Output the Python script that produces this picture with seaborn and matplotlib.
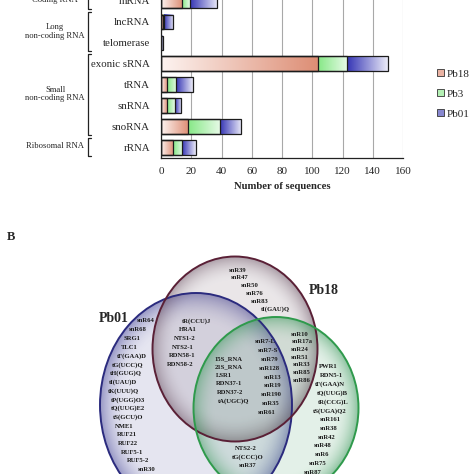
import numpy as np
import seaborn as sns
import matplotlib.pyplot as plt
from matplotlib.patches import Ellipse, Patch
from matplotlib.colors import LinearSegmentedColormap
from matplotlib.transforms import blended_transform_factory

# ---- panel A data: number of sequences per RNA class ----
categories = ['mRNA', 'lncRNA', 'telomerase', 'exonic sRNA', 'tRNA', 'snRNA', 'snoRNA', 'rRNA']
pb18 = [14, 1, 0, 104, 4, 4, 18, 8]
pb3 = [5, 1, 0, 19, 6, 5, 21, 6]
pb01 = [18, 6, 1, 27, 11, 4, 14, 9]
series_names = ['Pb18', 'Pb3', 'Pb01']
x_ticks = [0, 20, 40, 60, 80, 100, 120, 140, 160]

# RNA groups (label, first row, last row)
groups = [('Coding RNA', 0, 0), ('Long\nnon-coding RNA', 1, 2),
          ('Small\nnon-coding RNA', 3, 6), ('Ribosomal RNA', 7, 7)]

# ---- panel B data: Venn region contents ----
pb18_only = ['snR39', 'snR47', 'snR50', 'snR76', 'snR83', 'tI(GAU)Q']
pb01_only = ['snR64', 'snR68', 'SRG1', 'TLC1', 'tF(GAA)D', 'tG(UCC)Q', 'tH(GUG)Q',
             'tI(UAU)D', 'tK(UUU)Q', 'tP(UGG)O3', 'tQ(UUG)E2', 'tS(GCU)O', 'NME1',
             'RUF21', 'RUF22', 'RUF5-1', 'RUF5-2', 'snR30']
pb01_pb18 = ['tR(CCU)J', 'HRA1', 'NTS1-2', 'NTS2-1', 'RDN58-1', 'RDN58-2']
all_three_a = ['15S_RNA', '21S_RNA', 'LSR1', 'RDN37-1', 'RDN37-2', 'tA(UGC)Q']
all_three_b = ['snR7-L', 'snR7-S', 'snR79', 'snR128', 'snR13', 'snR19', 'snR190',
               'snR35', 'snR61']
pb18_pb3 = ['snR10', 'snR17a', 'snR24', 'snR51', 'snR33', 'snR85', 'snR86']
pb3_only = ['PWR1', 'RDN5-1', 'tF(GAA)N', 'tQ(UUG)B', 'tR(CCG)L', 'tS(UGA)Q2',
            'snR161', 'snR38', 'snR42', 'snR48', 'snR6', 'snR75', 'snR87']
pb01_pb3 = ['NTS2-2', 'tG(CCC)O', 'snR37']

sns.set_style('white')
serif = ['Liberation Serif', 'DejaVu Serif']
plt.rcParams['font.family'] = serif

W = 474
fig = plt.figure(figsize=(4.74, 4.74), dpi=100)

# ================= Venn (drawn in pixel coordinates) =================
axv = fig.add_axes([0, 0, 1, 1], zorder=0)
axv.set_xlim(0, W)
axv.set_ylim(W, 0)
axv.axis('off')

# (center x, center y, width, height, fill rgb, edge colour)
circles = [
    (196, 405, 192, 224, (0.32, 0.32, 0.62), '#2b2b7e'),
    (235, 349, 165, 185, (0.45, 0.36, 0.42), '#5a2036'),
    (276, 408, 165, 182, (0.28, 0.62, 0.40), '#2f9a4c'),
]
for cx, cy, w, h, rgb, ec in circles:
    xs = np.linspace(-1, 1, 300)
    X, Y = np.meshgrid(xs, xs)
    r = np.sqrt(X ** 2 + Y ** 2)
    ramp = np.clip((r - 0.72) / 0.28, 0, 1) ** 2
    img = np.zeros((300, 300, 4))
    img[..., :3] = rgb
    img[..., 3] = 0.15 + 0.45 * ramp
    ell = Ellipse((cx, cy), w, h, facecolor='none', edgecolor=ec, lw=1.4, zorder=3)
    axv.add_patch(ell)
    im = axv.imshow(img, extent=[cx - w / 2, cx + w / 2, cy + h / 2, cy - h / 2],
                    zorder=2, interpolation='bilinear')
    im.set_clip_path(ell)
axv.set_xlim(0, W)
axv.set_ylim(W, 0)
axv.set_aspect('auto')

# text layout per region: (names, x positions, first y, line step, alignment)
regions = [
    (pb18_only, [238, 240, 250, 255, 260, 275], 270, 7.8, 'center'),
    (pb01_only, [146, 138, 132, 129, 132, 128, 126, 123, 124, 128, 128, 128, 124,
                 127, 128, 132, 138, 147], 321, 8.75, 'center'),
    (pb01_pb18, [197, 188, 185, 183, 182, 180], 321, 8.7, 'center'),
    (all_three_a, [215, 215, 216, 216, 217, 218], 358.3, 8.5, 'left'),
    (all_three_b, [265, 268, 270, 269, 273, 273, 271, 271, 267], 341.7, 8.85, 'center'),
    (pb18_pb3, [300, 302, 300, 300, 302, 302, 302], 334, 7.7, 'center'),
    (pb3_only, [328, 332, 330, 332, 333, 330, 330, 329, 327, 323, 322, 318, 313],
     366.7, 8.8, 'center'),
    (pb01_pb3, [246, 248, 248], 448.3, 8.8, 'center'),
]
for names, xs, y0, dy, ha in regions:
    for i, name in enumerate(names):
        axv.text(xs[i], y0 + i * dy, name, ha=ha, va='center', fontsize=4.8,
                 fontweight='bold', color='#1a1a1a', zorder=4)

axv.text(114, 318, 'Pb01', ha='center', va='center', fontsize=10, fontweight='bold')
axv.text(324, 291, 'Pb18', ha='center', va='center', fontsize=10, fontweight='bold')
axv.text(11, 237, 'B', ha='center', va='center', fontsize=9, fontweight='bold')

# ================= Stacked bar chart =================
ax = fig.add_axes([161 / W, 1 - 158 / W, 242 / W, 167.5 / W], zorder=1)
ax.patch.set_alpha(0)

cmaps = [
    LinearSegmentedColormap.from_list('pb18', ['#fdf4f1', '#dd8d74']),
    LinearSegmentedColormap.from_list('pb3', ['#86e886', '#e6fae6']),
    LinearSegmentedColormap.from_list('pb01', ['#3535b5', '#ececf8']),
]
legend_cols = ['#eab3a3', '#b4f0b4', '#8888d0']

layers = [pb18, pb3, pb01]
cum = np.zeros(len(categories))
for vals, cmap in zip(layers, cmaps):
    vals = np.array(vals, dtype=float)
    n0 = len(ax.patches)
    sns.barplot(x=cum + vals, y=categories, order=categories, orient='h',
                color='white', width=0.7, errorbar=None, ax=ax)
    for i, p in enumerate(ax.patches[n0:]):
        p.set_facecolor('none')
        p.set_edgecolor('#1c1c1c')
        p.set_linewidth(0.9)
        p.set_zorder(2)
        if vals[i] > 0:
            y0, h = p.get_y(), p.get_height()
            ax.imshow(np.linspace(0, 1, 256).reshape(1, -1), cmap=cmap,
                      extent=[cum[i], cum[i] + vals[i], y0 + h, y0],
                      aspect='auto', zorder=0.8, interpolation='bilinear')
    cum += vals

ax.set_xlim(0, 160)
ax.set_ylim(len(categories) - 0.5, -0.5)
ax.set_xticks(x_ticks)
ax.set_yticks(range(len(categories)))
ax.set_yticklabels(categories)
ax.set_yticks(np.arange(-0.5, len(categories)), minor=True)
ax.xaxis.grid(True, color='#a8a8a8', lw=0.8)
ax.set_axisbelow(True)
for s in ['top', 'right']:
    ax.spines[s].set_visible(False)
for s in ['left', 'bottom']:
    ax.spines[s].set_color('#222222')
    ax.spines[s].set_linewidth(0.9)
ax.tick_params(axis='y', which='major', length=0, pad=8, labelsize=7.8)
ax.tick_params(axis='y', which='minor', length=3, width=0.8, color='#222222')
ax.tick_params(axis='x', length=3, width=0.8, color='#222222', pad=3.5, labelsize=8)
ax.set_ylabel('')
ax.set_xlabel('Number of sequences', fontsize=7.7, fontweight='bold', labelpad=4.5)

# group brackets and labels
tr = blended_transform_factory(ax.transAxes, ax.transData)
bx = (87.7 - 161) / 242
for label, r0, r1 in groups:
    ya, yb = r0 - 0.45, r1 + 0.4
    ax.plot([bx + 0.012, bx, bx, bx + 0.012], [ya, ya, yb, yb], color='#222222',
            lw=0.9, transform=tr, clip_on=False)
    ax.text((55 - 161) / 242, (r0 + r1) / 2 - 0.05, label, transform=tr,
            ha='center', va='center', fontsize=6.2, linespacing=1.1)

handles = [Patch(facecolor=c, edgecolor='#333333', lw=0.6) for c in legend_cols]
fig.legend(handles, series_names, loc='center left',
           bbox_to_anchor=(427 / W, 1 - 94 / W), frameon=False,
           handlelength=0.6, handleheight=0.6, handletextpad=0.3,
           labelspacing=0.95, prop={'family': serif, 'size': 8})

fig.savefig('out.png', dpi=100, facecolor='white')
